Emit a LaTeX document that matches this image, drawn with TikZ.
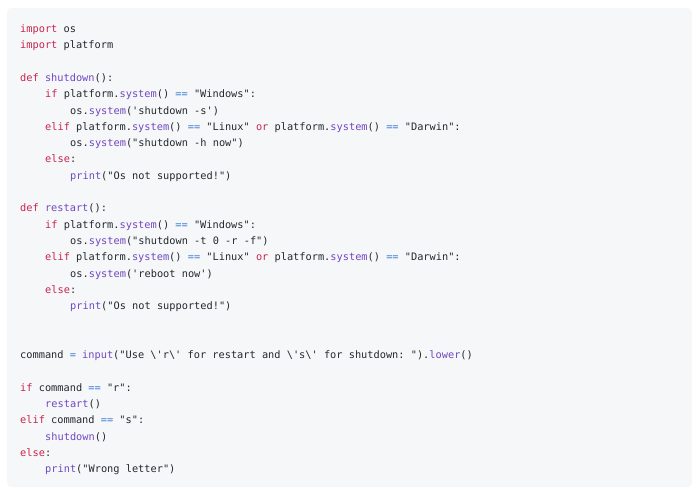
\documentclass[tikz,border=0pt]{standalone}
\usepackage{fontspec}
\setmonofont{DejaVu Sans Mono}
\definecolor{bgc}{HTML}{F6F7F9}
\definecolor{kwc}{HTML}{C7254E}
\definecolor{fnc}{HTML}{7048C0}
\definecolor{opc}{HTML}{3A7BD5}
\definecolor{txc}{HTML}{24292E}
\newcommand{\kw}[1]{\textcolor{kwc}{#1}}
\newcommand{\fn}[1]{\textcolor{fnc}{#1}}
\newcommand{\op}[1]{\textcolor{opc}{#1}}
\newcommand{\bs}{\textbackslash}
\begin{document}
\begin{tikzpicture}[x=1pt,y=-1pt,
  ln/.style={anchor=base west,inner sep=0pt,font=\ttfamily\fontsize{10.3}{12}\selectfont,text=txc}]
\useasboundingbox (0,0) rectangle (700,495);
\fill[bgc,rounded corners=4pt] (7,8) rectangle (692,487);
\def\L{32.5}\def\D{16.3}
\node[ln] (l1) at (20,{\L+0*\D}) {\kw{import} os};
\node[ln] (l2) at (20,{\L+1*\D}) {\kw{import} platform};
\node[ln] (l4) at (20,{\L+3*\D}) {\kw{def} \fn{shutdown}():};
\node[ln] (l5) at (45,{\L+4*\D}) {\kw{if} platform.\fn{system}() \op{==} "Windows":};
\node[ln] (l6) at (70,{\L+5*\D}) {os.\fn{system}('shutdown -s')};
\node[ln] (l7) at (45,{\L+6*\D}) {\kw{elif} platform.\fn{system}() \op{==} "Linux" \kw{or} platform.\fn{system}() \op{==} "Darwin":};
\node[ln] (l8) at (70,{\L+7*\D}) {os.\fn{system}("shutdown -h now")};
\node[ln] (l9) at (45,{\L+8*\D}) {\kw{else}:};
\node[ln] (l10) at (70,{\L+9*\D}) {\fn{print}("Os not supported!")};
\node[ln] (l12) at (20,{\L+11*\D}) {\kw{def} \fn{restart}():};
\node[ln] (l13) at (45,{\L+12*\D}) {\kw{if} platform.\fn{system}() \op{==} "Windows":};
\node[ln] (l14) at (70,{\L+13*\D}) {os.\fn{system}("shutdown -t 0 -r -f")};
\node[ln] (l15) at (45,{\L+14*\D}) {\kw{elif} platform.\fn{system}() \op{==} "Linux" \kw{or} platform.\fn{system}() \op{==} "Darwin":};
\node[ln] (l16) at (70,{\L+15*\D}) {os.\fn{system}('reboot now')};
\node[ln] (l17) at (45,{\L+16*\D}) {\kw{else}:};
\node[ln] (l18) at (70,{\L+17*\D}) {\fn{print}("Os not supported!")};
\node[ln] (l21) at (20,{\L+20*\D}) {command \op{=} \fn{input}("Use \bs'r\bs' for restart and \bs's\bs' for shutdown: ").\fn{lower}()};
\node[ln] (l23) at (20,{\L+22*\D}) {\kw{if} command \op{==} "r":};
\node[ln] (l24) at (45,{\L+23*\D}) {\fn{restart}()};
\node[ln] (l25) at (20,{\L+24*\D}) {\kw{elif} command \op{==} "s":};
\node[ln] (l26) at (45,{\L+25*\D}) {\fn{shutdown}()};
\node[ln] (l27) at (20,{\L+26*\D}) {\kw{else}:};
\node[ln] (l28) at (45,{\L+27*\D}) {\fn{print}("Wrong letter")};
\end{tikzpicture}
\end{document}
